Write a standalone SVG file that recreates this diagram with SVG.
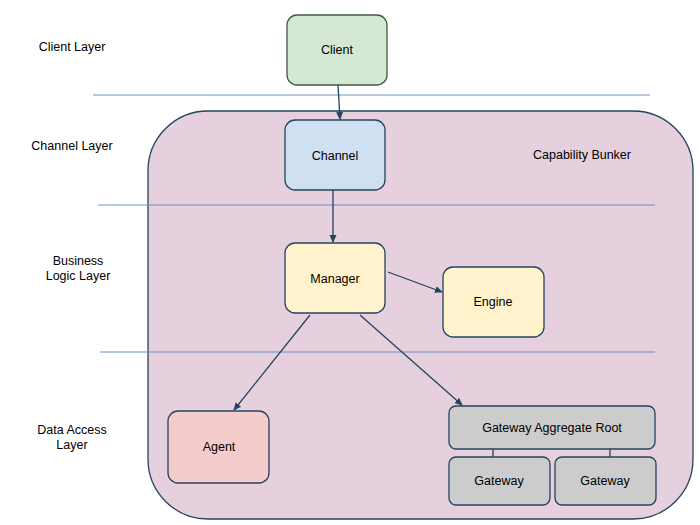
<svg xmlns="http://www.w3.org/2000/svg" width="700" height="525" viewBox="0 0 700 525">
<style>
text{font-family:"Liberation Sans",Arial,sans-serif;font-size:12.5px;fill:#000}
.n{stroke-width:1.3}
.sep{stroke:#6c8ebf;stroke-width:1}
.c{stroke:#23445d;stroke-width:1.3;fill:none}
</style>
<defs><marker id="a" markerWidth="8" markerHeight="8" refX="7" refY="4" orient="auto" markerUnits="userSpaceOnUse"><path d="M0,0.5 L8,4 L0,7.5 Z" fill="#23445d"/></marker></defs>
<rect width="700" height="525" fill="#fff"/>
<g id="layers">
<text x="72" y="51" text-anchor="middle">Client Layer</text>
<text x="72" y="150" text-anchor="middle">Channel Layer</text>
<text x="78" y="265" text-anchor="middle">Business</text>
<text x="78" y="280" text-anchor="middle">Logic Layer</text>
<text x="72" y="434" text-anchor="middle">Data Access</text>
<text x="72" y="449" text-anchor="middle">Layer</text>
</g>
<g id="bunker"><rect x="148" y="111" width="545" height="408" rx="60" fill="#e6d0de" stroke="#23445d" stroke-width="1.3"/>
<text x="582" y="159" text-anchor="middle">Capability Bunker</text></g>
<g id="separators">
<line class="sep" x1="93" y1="95" x2="650" y2="95"/>
<line class="sep" x1="98" y1="205" x2="655" y2="205"/>
<line class="sep" x1="100" y1="352" x2="655" y2="352"/>
</g>
<g id="client"><rect class="n" x="287" y="15" width="100" height="70" rx="10" fill="#d5e8d4" stroke="#3d5a3d"/><text x="337" y="54" text-anchor="middle">Client</text></g>
<g id="channel"><rect class="n" x="285" y="120" width="100" height="70" rx="10" fill="#cfe0f3" stroke="#23445d"/><text x="335" y="160" text-anchor="middle">Channel</text></g>
<g id="manager"><rect class="n" x="285" y="243" width="100" height="70" rx="10" fill="#fff2cc" stroke="#23445d"/><text x="335" y="283" text-anchor="middle">Manager</text></g>
<g id="engine"><rect class="n" x="443" y="267" width="101" height="70" rx="10" fill="#fff2cc" stroke="#23445d"/><text x="493" y="306" text-anchor="middle">Engine</text></g>
<g id="agent"><rect class="n" x="168" y="411" width="101" height="72" rx="10" fill="#f4cccc" stroke="#23445d"/><text x="219" y="451" text-anchor="middle">Agent</text></g>
<g id="gar"><rect class="n" x="449" y="406" width="206" height="43" rx="7" fill="#cccccc" stroke="#23445d"/><text x="552" y="432" text-anchor="middle">Gateway Aggregate Root</text></g>
<g id="gw1"><rect class="n" x="449" y="457" width="101" height="48" rx="7" fill="#cccccc" stroke="#23445d"/><text x="499" y="485" text-anchor="middle">Gateway</text></g>
<g id="gw2"><rect class="n" x="555" y="457" width="101" height="48" rx="7" fill="#cccccc" stroke="#23445d"/><text x="605" y="485" text-anchor="middle">Gateway</text></g>
<g id="connectors">
<line class="c" x1="338" y1="85" x2="340" y2="119" marker-end="url(#a)"/>
<line class="c" x1="333" y1="190" x2="333" y2="242" marker-end="url(#a)"/>
<line class="c" x1="388" y1="272" x2="442" y2="292" marker-end="url(#a)"/>
<line class="c" x1="310" y1="315" x2="234" y2="410" marker-end="url(#a)"/>
<line class="c" x1="360" y1="315" x2="462" y2="405" marker-end="url(#a)"/>
<line class="c" x1="493" y1="449" x2="493" y2="457"/>
<line class="c" x1="610" y1="449" x2="610" y2="457"/>
</g>
</svg>
